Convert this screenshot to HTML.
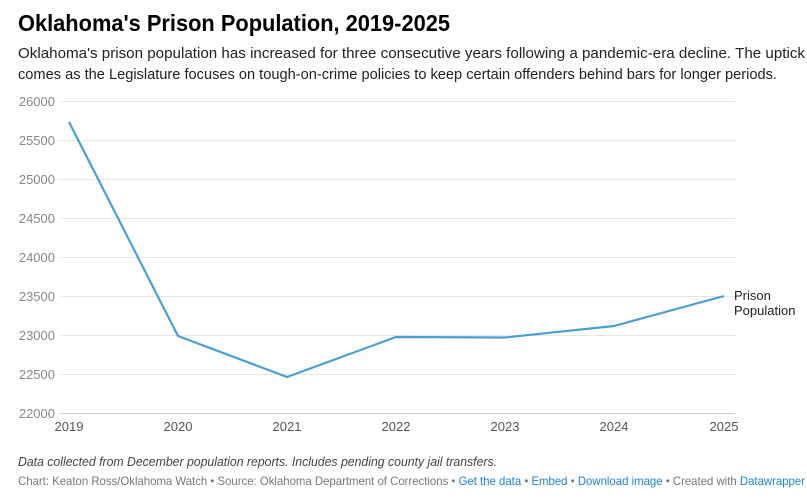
<!DOCTYPE html>
<html><head><meta charset="utf-8"><style>
body{margin:0;background:#fff;}
svg{display:block;font-family:"Liberation Sans",Arial,sans-serif;}
</style></head><body>
<svg width="807" height="500" viewBox="0 0 807 500">
<text x="18" y="31" font-size="23" font-weight="bold" fill="#000" textLength="432" lengthAdjust="spacingAndGlyphs">Oklahoma's Prison Population, 2019-2025</text>
<text x="18" y="58" font-size="15" fill="#222" textLength="787" lengthAdjust="spacingAndGlyphs">Oklahoma's prison population has increased for three consecutive years following a pandemic-era decline. The uptick</text>
<text x="18" y="79" font-size="15" fill="#222" textLength="759" lengthAdjust="spacingAndGlyphs">comes as the Legislature focuses on tough-on-crime policies to keep certain offenders behind bars for longer periods.</text>
<g stroke="#e6e6e6" stroke-width="1">
<line x1="60" x2="735" y1="101.5" y2="101.5"/>
<line x1="60" x2="735" y1="140.5" y2="140.5"/>
<line x1="60" x2="735" y1="179.5" y2="179.5"/>
<line x1="60" x2="735" y1="218.5" y2="218.5"/>
<line x1="60" x2="735" y1="257.5" y2="257.5"/>
<line x1="60" x2="735" y1="296.5" y2="296.5"/>
<line x1="60" x2="735" y1="335.5" y2="335.5"/>
<line x1="60" x2="735" y1="374.5" y2="374.5"/>
<line x1="60" x2="735" y1="413.5" y2="413.5" stroke="#ccc"/>
</g>
<g font-size="13" fill="#888" text-anchor="end">
<text x="55" y="106">26000</text>
<text x="55" y="145">25500</text>
<text x="55" y="184">25000</text>
<text x="55" y="223">24500</text>
<text x="55" y="262">24000</text>
<text x="55" y="301">23500</text>
<text x="55" y="340">23000</text>
<text x="55" y="379">22500</text>
<text x="55" y="418">22000</text>
</g>
<g font-size="13" fill="#555" text-anchor="middle">
<text x="69" y="431">2019</text>
<text x="178" y="431">2020</text>
<text x="287" y="431">2021</text>
<text x="396" y="431">2022</text>
<text x="505" y="431">2023</text>
<text x="614" y="431">2024</text>
<text x="724" y="431">2025</text>
</g>
<polyline fill="none" stroke="#4a9fce" stroke-width="2.2" stroke-linejoin="round"
points="69,122 178,336 287,377 396,337 505,337.5 614,326 724,296"/>
<text x="734" y="300" font-size="13" fill="#222">Prison</text>
<text x="734" y="315" font-size="13" fill="#222">Population</text>
<text x="18" y="466" font-size="12.5" font-style="italic" fill="#444" textLength="479" lengthAdjust="spacingAndGlyphs">Data collected from December population reports. Includes pending county jail transfers.</text>
<text x="18" y="485" font-size="12" fill="#777" textLength="787" lengthAdjust="spacingAndGlyphs">Chart: Keaton Ross/Oklahoma Watch • Source: Oklahoma Department of Corrections  • <tspan fill="#1d81d0">Get the data</tspan> • <tspan fill="#1d81d0">Embed</tspan>  • <tspan fill="#1d81d0">Download image</tspan> • Created with <tspan fill="#1d81d0">Datawrapper</tspan></text>
</svg>
</body></html>
